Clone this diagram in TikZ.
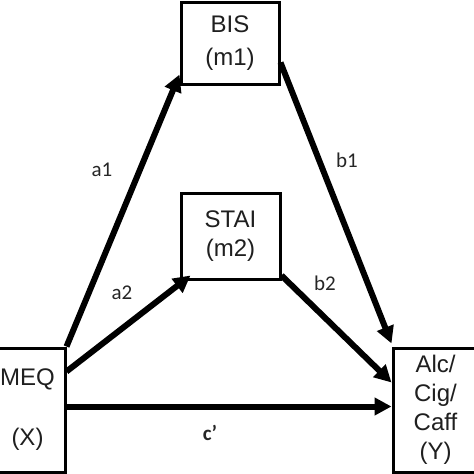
\documentclass[tikz,border=0pt]{standalone}
\usepackage{fontspec}
\setmainfont{Liberation Sans}
\newfontfamily\lblfont{Carlito}
\usetikzlibrary{arrows.meta}
\tikzset{
  varbox/.style={draw=black, line width=3pt, inner sep=0pt, align=center, text=black!88, font=\fontsize{24}{33}\selectfont},
  pathline/.style={line width=6pt, -{Triangle[length=17pt,width=17pt]}},
  pathlbl/.style={font=\lblfont\fontsize{21}{24}\selectfont, inner sep=0pt, text=black!85}
}
\begin{document}
\begin{tikzpicture}[x=1pt,y=-1pt]
\useasboundingbox (0,0) rectangle (474,474);
\clip (0,0) rectangle (474,474);
\fill[white] (0,0) rectangle (474,474);
\node[varbox, minimum width=98pt, minimum height=82pt] (bis) at (230,43) {BIS\\(m1)};
\node[varbox, minimum width=99pt, minimum height=86pt, font=\fontsize{24}{29}\selectfont] (stai) at (230.5,236) {STAI\\(m2)};
\node[varbox, minimum width=75pt, minimum height=124pt, font=\fontsize{24}{60}\selectfont] (meq) at (27.5,410) {MEQ\\(X)};
\node[varbox, minimum width=85pt, minimum height=124pt, font=\fontsize{24}{29}\selectfont] (yv) at (435.5,410) {Alc/\\Cig/\\Caff\\(Y)};
\draw[pathline] (meq.north east) -- ([yshift=11pt]bis.south west);
\draw[pathline] ([yshift=-25pt]meq.north east) -- ([xshift=11pt,yshift=5pt]stai.south west);
\draw[pathline] ([yshift=23pt]bis.south east) -- ([yshift=3pt]yv.north west);
\draw[pathline] ([yshift=5pt]stai.south east) -- ([yshift=-36pt]yv.north west);
\draw[pathline] ([yshift=-60pt]meq.north east) -- ([yshift=-60pt]yv.north west);
\node[pathlbl] (la1) at (102,170) {a1};
\node[pathlbl] (la2) at (122,293) {a2};
\node[pathlbl] (lb1) at (347,160) {b1};
\node[pathlbl] (lb2) at (325,283) {b2};
\node[pathlbl, font=\lblfont\bfseries\fontsize{21}{24}\selectfont] (lc) at (210,433) {c’};
\end{tikzpicture}
\end{document}
